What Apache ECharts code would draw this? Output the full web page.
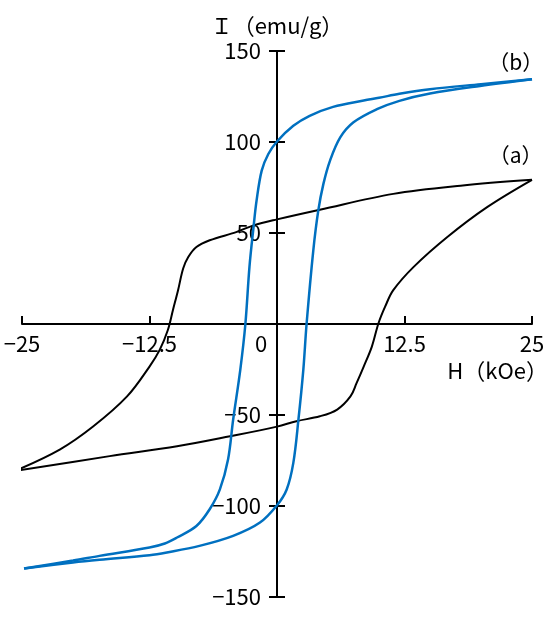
<!DOCTYPE html>
<html>
<head>
<meta charset="utf-8">
<script src="https://cdn.jsdelivr.net/npm/echarts@6/dist/echarts.min.js"></script>
<style>
html,body{margin:0;padding:0;background:#fff;}
#chart{width:550px;height:622px;}
</style>
</head>
<body>
<div id="chart"></div>
<script>
// H (kOe), I (emu/g)
const aDescending = [[25,79.2],[18,76],[11.4,71.5],[4.2,62.8],[0,57.5],[-2.3,54.2],[-4,50.5],[-6.6,46],[-7.9,42.3],[-8.7,36.8],[-9.2,30.5],[-9.7,18.6],[-10.2,7.7],[-10.7,-3.3],[-11.5,-14.2],[-12.5,-23.4],[-14.7,-39.8],[-18,-56.2],[-21.3,-69],[-25.7,-80.8]];
const aAscending = [[-25.7,-80.8],[-16.4,-72.6],[-9.8,-67.2],[-4.6,-61.7],[0,-56.4],[1.9,-53.4],[4.2,-50.7],[5.9,-47],[7.2,-39.8],[7.8,-32.5],[8.5,-23.4],[9.3,-12.4],[9.95,0.4],[10.6,9.5],[11.4,18.6],[13.4,31.4],[16.7,47.8],[20.6,64.2],[25,79.2]];
const bDescending = [[25,134.5],[20,131.8],[15,129],[12,126.5],[10,124.3],[8.5,122.8],[5.5,119.3],[3.2,114.4],[1.6,108.9],[0,100.3],[-0.85,93.4],[-1.5,84.3],[-2.0,67.9],[-2.3,53.3],[-2.7,31.4],[-3.1,0],[-3.6,-25.2],[-4.3,-52.6],[-4.8,-74.5],[-5.6,-90.9],[-6.6,-101.8],[-7.9,-111],[-9.8,-117.3],[-11,-120.6],[-12.5,-122.8],[-17.4,-127.4],[-20,-130],[-24.8,-134.3]];
const bAscending = [[-24.8,-134.3],[-20,-131],[-17.4,-129.5],[-12.5,-127],[-10.8,-125.5],[-7.6,-121.9],[-4.3,-116.4],[-1.67,-109.1],[0,-99.6],[0.95,-90.9],[1.6,-76.3],[2.1,-52.6],[2.58,-25.2],[2.9,0],[3.56,40.5],[4.05,62.4],[4.55,77],[5.2,89.8],[6.2,102.5],[7.5,110.8],[9.8,118],[12,122.6],[15,126.6],[19.9,130.8],[25,134.5]];
const curveLabels = [{text:'（b）', coord:[23.4,144]}, {text:'（a）', coord:[23.4,92.8]}];
const xTicks = {min:-25, max:25, interval:12.5};
const yTicks = {min:-150, max:150, interval:50};
const xName = 'H（kOe）';
const yName = 'Ｉ（emu/g）';

const FONT = 'Noto Sans CJK JP';
const W = 550, H = 622;
const G = {left:22, right:18, top:51, bottom:25};
// place axes through the origin (ranges are symmetric about zero)
const yAxisOffset = -((W - G.left - G.right) / 2);
const xAxisOffset = -((H - G.top - G.bottom) / 2);

const chart = echarts.init(document.getElementById('chart'));
const minus = v => String(v).replace('-', '−');
const lineSeries = (data, color, width) => ({
  type:'line', data, showSymbol:false, symbol:'none', smooth:0.35,
  clip:false, lineStyle:{color, width}, itemStyle:{color}, z:3, silent:true
});
const blackA = lineSeries(aDescending,'#000',2);
blackA.markPoint = {
  symbol:'circle', symbolSize:1, itemStyle:{color:'rgba(0,0,0,0)'},
  label:{show:true, position:'inside', color:'#000', fontFamily:FONT, fontSize:21, formatter:p=>p.name},
  data: curveLabels.map(l=>({name:l.text, coord:l.coord}))
};
const yBase = {
  type:'value', min:yTicks.min, max:yTicks.max, interval:yTicks.interval,
  position:'left', offset:yAxisOffset, splitLine:{show:false}
};
chart.setOption({
  animation:false,
  textStyle:{fontFamily:FONT},
  grid:Object.assign({containLabel:false, outerBoundsMode:'none'}, G),
  xAxis:[{
    type:'value', min:xTicks.min, max:xTicks.max, interval:xTicks.interval,
    position:'bottom', offset:xAxisOffset,
    name:xName, nameLocation:'end', nameGap:16,
    nameTextStyle:{color:'#000', fontSize:22, fontFamily:FONT, align:'right', verticalAlign:'top', padding:[36,0,0,0]},
    axisLine:{onZero:false, lineStyle:{color:'#000', width:2}},
    axisTick:{show:true, inside:true, length:8, lineStyle:{color:'#000', width:2}},
    axisLabel:{color:'#000', fontSize:22, fontFamily:FONT, margin:9,
      formatter:v=> v===0 ? '{z|0}' : minus(v),
      rich:{z:{fontSize:22, fontFamily:FONT, color:'#000', padding:[0,32,0,0]}}},
    splitLine:{show:false}
  }],
  yAxis:[Object.assign({}, yBase, {
    name:yName, nameLocation:'end', nameGap:14,
    nameTextStyle:{color:'#000', fontSize:22, fontFamily:FONT},
    axisLine:{onZero:false, lineStyle:{color:'#000', width:2}},
    axisTick:{show:true, inside:false, length:8, lineStyle:{color:'#000', width:2}},
    axisLabel:{color:'#000', fontSize:22, fontFamily:FONT, margin:16,
      formatter:v=> v===0 ? '' : minus(v)}
  }), Object.assign({}, yBase, {
    axisLine:{show:true, onZero:false, lineStyle:{color:'#000', width:2}},
    axisTick:{show:true, inside:true, length:8, lineStyle:{color:'#000', width:2}},
    axisLabel:{show:false}
  })],
  series:[
    blackA,
    lineSeries(aAscending,'#000',2),
    lineSeries(bDescending,'#0070C0',2.5),
    lineSeries(bAscending,'#0070C0',2.5)
  ]
});
</script>
</body>
</html>
